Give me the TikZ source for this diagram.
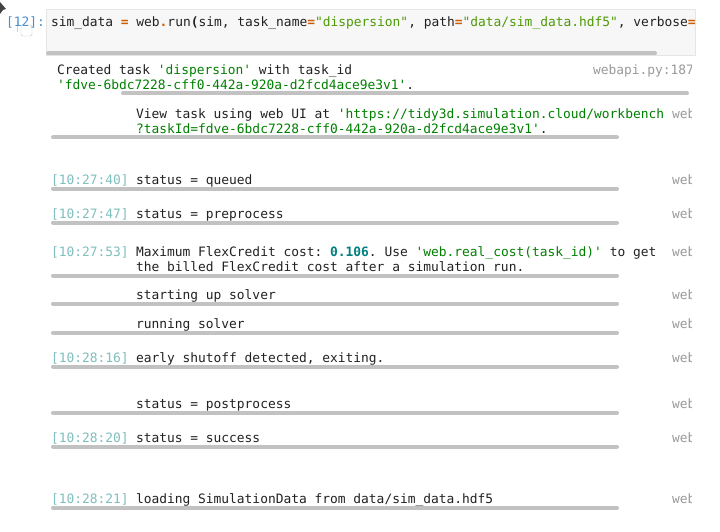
\documentclass[tikz,border=0pt]{standalone}
\usepackage{fontspec}
\setmainfont{DejaVu Sans Mono}[Ligatures=TeXOff]
\definecolor{cgreen}{HTML}{008000}
\definecolor{cstr}{HTML}{4E9A06}
\definecolor{cop}{HTML}{CE5C00}
\definecolor{ctime}{HTML}{7FBFBF}
\definecolor{cnum}{HTML}{008080}
\definecolor{cgrey}{HTML}{9A9A9A}
\definecolor{cbar}{HTML}{C2C2C2}
\definecolor{cink}{HTML}{222222}
\definecolor{cprompt}{HTML}{4C8FCB}
\tikzset{
 tx/.style={anchor=base west,inner sep=0pt,outer sep=0pt,yshift=-0.6pt,text=cink,font=\fontsize{12.9}{15}\selectfont},
 bar/.style={line width=4pt,draw=cbar,line cap=round,yshift=-0.5pt},
}
\newcommand{\cg}[1]{\textcolor{cgreen}{#1}}
\begin{document}
\frenchspacing
\begin{tikzpicture}[x=1pt,y=-1pt]
\useasboundingbox (0,0) rectangle (720,532);
\fill[white] (0,0) rectangle (720,532);
% cursor
\fill[cink!85] (0,2) -- (6,9) -- (3,10) -- (0,14) -- cycle;
% copy icon
\draw[black!22,rounded corners=1.5pt] (21,25) rectangle (32,36);
\draw[black!16,rounded corners=1.5pt] (17,21) -- (17,32);
\node[tx,text=cprompt] (prompt) at (6,25.7) {[12]:};
% input box
\draw[fill=black!3,draw=black!10] (46,9.5) rectangle (695,55);
\begin{scope}
\clip (0,0) rectangle (694,532);
\node[tx] (code) at (51,25.7) {sim\_data \textcolor{cop}{\textbf{=}} web\textcolor{cop}{\textbf{.}}run\textbf{(}sim, task\_name\textcolor{cop}{\textbf{=}}\textcolor{cstr}{"dispersion"}, path\textcolor{cop}{\textbf{=}}\textcolor{cstr}{"data/sim\_data.hdf5"}, verbose\textcolor{cop}{\textbf{=}}\textcolor{cstr}{"}};
\end{scope}
\draw[bar] (48,53) -- (655,53);
% bars first, so that the text lies over them
\draw[bar] (123,93) -- (687,93);
\draw[bar] (53,137) -- (617,137);
\draw[bar] (53,188) -- (617,188);
\draw[bar] (53,222) -- (617,222);
\draw[bar] (53,275) -- (617,275);
\draw[bar] (53,303) -- (617,303);
\draw[bar] (53,332) -- (617,332);
\draw[bar] (53,366) -- (617,366);
\draw[bar] (53,412) -- (617,412);
\draw[bar] (53,446) -- (617,446);
\draw[bar] (53,507.5) -- (617,507.5);
% text
\node[tx] (t1) at (57,73.7) {Created task \cg{'dispersion'} with task\_id};
\node[tx] (t2) at (57,88.5) {\cg{'fdve-6bdc7228-cff0-442a-920a-d2fcd4ace9e3v1'}.};
\node[tx] (t3) at (136,117.7) {View task using web UI at \cg{'https://tidy3d.simulation.cloud/workbench}};
\node[tx] (t4) at (136,132.5) {\cg{?taskId=fdve-6bdc7228-cff0-442a-920a-d2fcd4ace9e3v1'}.};
\node[tx,text=ctime] (a1) at (51,183.7) {[10:27:40]};
\node[tx] (b1) at (136,183.7) {status = queued};
\node[tx,text=ctime] (a2) at (51,217.7) {[10:27:47]};
\node[tx] (b2) at (136,217.7) {status = preprocess};
\node[tx,text=ctime] (a3) at (51,255.7) {[10:27:53]};
\node[tx] (b3) at (136,255.7) {Maximum FlexCredit cost: \textcolor{cnum}{\textbf{0.106}}. Use \cg{'web.real\_cost(task\_id)'} to get};
\node[tx] (b3b) at (136,270.5) {the billed FlexCredit cost after a simulation run.};
\node[tx] (b4) at (136,298.7) {starting up solver};
\node[tx] (b5) at (136,327.7) {running solver};
\node[tx,text=ctime] (a6) at (51,361.7) {[10:28:16]};
\node[tx] (b6) at (136,361.7) {early shutoff detected, exiting.};
\node[tx] (b7) at (136,408) {status = postprocess};
\node[tx,text=ctime] (a8) at (51,441.7) {[10:28:20]};
\node[tx] (b8) at (136,441.7) {status = success};
\node[tx,text=ctime] (a9) at (51,502.7) {[10:28:21]};
\node[tx] (b9) at (136,502.7) {loading SimulationData from data/sim\_data.hdf5};
% right column clipped
\begin{scope}
\clip (0,0) rectangle (691,532);
\node[tx,text=cgrey] (w0) at (593,73.7) {webapi.py:187};
\foreach \y/\n in {117.7/a,183.7/b,217.7/c,255.7/d,298.7/e,327.7/f,361.7/g,408/h,441.7/i,502.7/j}
  \node[tx,text=cgrey] (w\n) at (672,\y) {web};
\end{scope}
\end{tikzpicture}
\end{document}
